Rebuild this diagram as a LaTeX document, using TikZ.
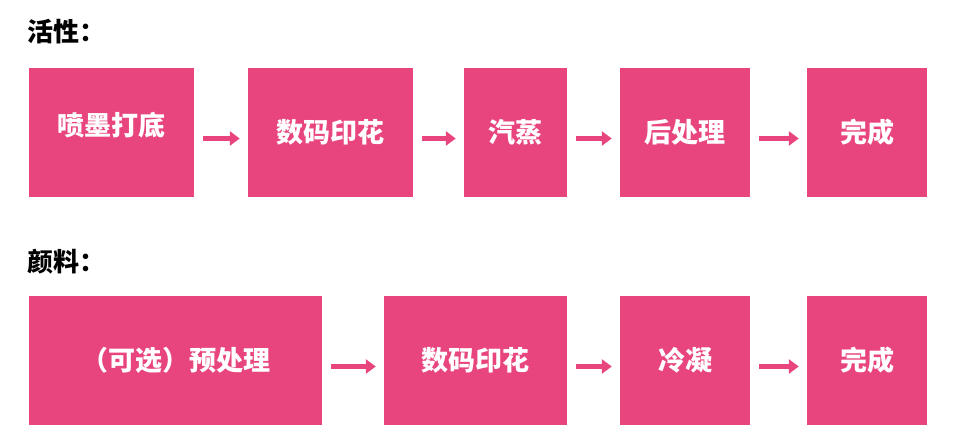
\documentclass[tikz,border=0pt]{standalone}
\usepackage{fontspec}
\newfontfamily\cjk{Noto Sans CJK SC}
\usetikzlibrary{arrows.meta,positioning}
\definecolor{rose}{HTML}{E8457F}
\begin{document}
\begin{tikzpicture}[x=1pt,y=1pt]
  \tikzset{box/.style = {fill=rose, text=white, font=\cjk\bfseries\fontsize{27}{30}\selectfont, inner sep=0pt},
           flow/.style = {draw=rose, line width=5pt, -{Triangle[length=10pt,width=14pt]}, shorten <=9pt, shorten >=8pt},
           head/.style = {anchor=west, font=\cjk\bfseries\fontsize{26}{30}\selectfont}}
  \useasboundingbox (0,0) rectangle (957,445);

  % first row
  \node[head] (t1) at (24,413) {活性：};
  \node[box, minimum width=165, minimum height=129] (a1) at (111.5,312.5) {};
  \node[text=white, font=\cjk\bfseries\fontsize{27}{30}\selectfont] at (111.5,320) {喷墨打底};
  \node[box, minimum width=165, minimum height=129] (a2) at (330.5,312.5) {数码印花};
  \node[box, minimum width=103, minimum height=129] (a3) at (515.5,312.5) {汽蒸};
  \node[box, minimum width=130, minimum height=129] (a4) at (685,312.5) {后处理};
  \node[box, minimum width=120, minimum height=129] (a5) at (867,312.5) {完成};
  \draw[flow] ([yshift=-6pt]a1.east) -- ([yshift=-6pt]a2.west);
  \draw[flow] ([yshift=-6pt]a2.east) -- ([yshift=-6pt]a3.west);
  \draw[flow] ([yshift=-6pt]a3.east) -- ([yshift=-6pt]a4.west);
  \draw[flow] ([yshift=-6pt]a4.east) -- ([yshift=-6pt]a5.west);

  % second row
  \node[head] (t2) at (24,183) {颜料：};
  \node[box, minimum width=293, minimum height=129] (b1) at (175.5,84.5) {（可选）预处理};
  \node[box, minimum width=183, minimum height=129] (b2) at (475.5,84.5) {数码印花};
  \node[box, minimum width=130, minimum height=129] (b3) at (685,84.5) {冷凝};
  \node[box, minimum width=120, minimum height=129] (b4) at (867,84.5) {完成};
  \draw[flow] ([yshift=-6pt]b1.east) -- ([yshift=-6pt]b2.west);
  \draw[flow] ([yshift=-6pt]b2.east) -- ([yshift=-6pt]b3.west);
  \draw[flow] ([yshift=-6pt]b3.east) -- ([yshift=-6pt]b4.west);
\end{tikzpicture}
\end{document}
